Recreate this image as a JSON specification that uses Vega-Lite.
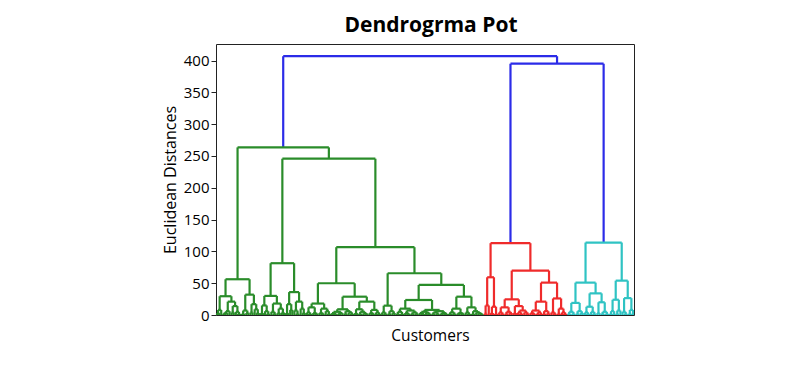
{
  "$schema": "https://vega.github.io/schema/vega-lite/v6.json",
  "width": 418,
  "height": 271,
  "autosize": {"type": "none"},
  "padding": {"left": 216, "top": 44, "right": 166, "bottom": 61},
  "background": "white",
  "config": {
    "view": {"stroke": "#222", "strokeWidth": 1},
    "font": "Open Sans",
    "axisX": {"title": "Customers", "labels": false, "ticks": false, "domain": false, "grid": false, "titleFont": "Open Sans", "titleFontSize": 15.5, "titleFontWeight": "normal", "titleColor": "#000", "titlePadding": 13, "titleX": 214},
    "axisY": {"title": "Euclidean Distances", "values": [0, 50, 100, 150, 200, 250, 300, 350, 400], "grid": false, "domain": false, "tickSize": 5, "tickColor": "#222", "labelFont": "Open Sans", "labelFontSize": 15, "labelColor": "#000", "labelPadding": 2, "titleFont": "Open Sans", "titleFontSize": 16, "titleFontWeight": "normal", "titleColor": "#000", "titlePadding": 5}
  },
  "title": {"text": "Dendrogrma Pot", "font": "Open Sans", "fontSize": 21, "fontWeight": "bold", "color": "#000", "offset": 8, "dx": 6},
  "data": {"values": [
    {"x1":5,"x2":15,"y1":0,"y2":0,"h":3,"c":"g"},
    {"x1":10,"x2":25,"y1":3,"y2":0,"h":8,"c":"g"},
    {"x1":35,"x2":45,"y1":0,"y2":0,"h":2,"c":"g"},
    {"x1":40,"x2":55,"y1":2,"y2":0,"h":3,"c":"g"},
    {"x1":47.5,"x2":65,"y1":3,"y2":0,"h":6,"c":"g"},
    {"x1":75,"x2":85,"y1":0,"y2":0,"h":4,"c":"g"},
    {"x1":105,"x2":115,"y1":0,"y2":0,"h":2,"c":"g"},
    {"x1":95,"x2":110,"y1":0,"y2":2,"h":5,"c":"g"},
    {"x1":80,"x2":102.5,"y1":4,"y2":5,"h":14,"c":"g"},
    {"x1":56.25,"x2":91.25,"y1":6,"y2":14,"h":21,"c":"g"},
    {"x1":17.5,"x2":73.75,"y1":8,"y2":21,"h":29.5,"c":"g"},
    {"x1":125,"x2":135,"y1":0,"y2":0,"h":2,"c":"g"},
    {"x1":145,"x2":155,"y1":0,"y2":0,"h":3,"c":"g"},
    {"x1":130,"x2":150,"y1":2,"y2":3,"h":7,"c":"g"},
    {"x1":165,"x2":175,"y1":0,"y2":0,"h":4,"c":"g"},
    {"x1":195,"x2":205,"y1":0,"y2":0,"h":3,"c":"g"},
    {"x1":185,"x2":200,"y1":0,"y2":3,"h":9,"c":"g"},
    {"x1":170,"x2":192.5,"y1":4,"y2":9,"h":17,"c":"g"},
    {"x1":140,"x2":181.25,"y1":7,"y2":17,"h":32,"c":"g"},
    {"x1":45.63,"x2":160.63,"y1":29.5,"y2":32,"h":56.2,"c":"g"},
    {"x1":215,"x2":225,"y1":0,"y2":0,"h":3,"c":"g"},
    {"x1":245,"x2":255,"y1":0,"y2":0,"h":2,"c":"g"},
    {"x1":235,"x2":250,"y1":0,"y2":2,"h":6,"c":"g"},
    {"x1":220,"x2":242.5,"y1":3,"y2":6,"h":15,"c":"g"},
    {"x1":275,"x2":285,"y1":0,"y2":0,"h":2,"c":"g"},
    {"x1":265,"x2":280,"y1":0,"y2":2,"h":5,"c":"g"},
    {"x1":295,"x2":305,"y1":0,"y2":0,"h":3,"c":"g"},
    {"x1":315,"x2":325,"y1":0,"y2":0,"h":4,"c":"g"},
    {"x1":300,"x2":320,"y1":3,"y2":4,"h":10,"c":"g"},
    {"x1":272.5,"x2":310,"y1":5,"y2":10,"h":18,"c":"g"},
    {"x1":231.25,"x2":291.25,"y1":15,"y2":18,"h":30,"c":"g"},
    {"x1":335,"x2":345,"y1":0,"y2":0,"h":3,"c":"g"},
    {"x1":355,"x2":365,"y1":0,"y2":0,"h":8,"c":"g"},
    {"x1":340,"x2":360,"y1":3,"y2":8,"h":17,"c":"g"},
    {"x1":385,"x2":395,"y1":0,"y2":0,"h":2,"c":"g"},
    {"x1":375,"x2":390,"y1":0,"y2":2,"h":7,"c":"g"},
    {"x1":415,"x2":425,"y1":0,"y2":0,"h":3,"c":"g"},
    {"x1":405,"x2":420,"y1":0,"y2":3,"h":10,"c":"g"},
    {"x1":382.5,"x2":412.5,"y1":7,"y2":10,"h":21,"c":"g"},
    {"x1":350,"x2":397.5,"y1":17,"y2":21,"h":36,"c":"g"},
    {"x1":261.25,"x2":373.75,"y1":30,"y2":36,"h":81.4,"c":"g"},
    {"x1":445,"x2":455,"y1":0,"y2":0,"h":2,"c":"g"},
    {"x1":435,"x2":450,"y1":0,"y2":2,"h":4,"c":"g"},
    {"x1":475,"x2":485,"y1":0,"y2":0,"h":2,"c":"g"},
    {"x1":465,"x2":480,"y1":0,"y2":2,"h":3,"c":"g"},
    {"x1":442.5,"x2":472.5,"y1":4,"y2":3,"h":12,"c":"g"},
    {"x1":505,"x2":515,"y1":0,"y2":0,"h":2,"c":"g"},
    {"x1":495,"x2":510,"y1":0,"y2":2,"h":3,"c":"g"},
    {"x1":535,"x2":545,"y1":0,"y2":0,"h":2,"c":"g"},
    {"x1":525,"x2":540,"y1":0,"y2":2,"h":6,"c":"g"},
    {"x1":502.5,"x2":532.5,"y1":3,"y2":6,"h":10,"c":"g"},
    {"x1":457.5,"x2":517.5,"y1":12,"y2":10,"h":18,"c":"g"},
    {"x1":565,"x2":575,"y1":0,"y2":0,"h":2,"c":"g"},
    {"x1":555,"x2":570,"y1":0,"y2":2,"h":3,"c":"g"},
    {"x1":585,"x2":595,"y1":0,"y2":0,"h":2,"c":"g"},
    {"x1":590,"x2":605,"y1":2,"y2":0,"h":3,"c":"g"},
    {"x1":562.5,"x2":597.5,"y1":3,"y2":3,"h":5,"c":"g"},
    {"x1":615,"x2":625,"y1":0,"y2":0,"h":2,"c":"g"},
    {"x1":645,"x2":655,"y1":0,"y2":0,"h":2,"c":"g"},
    {"x1":635,"x2":650,"y1":0,"y2":2,"h":4,"c":"g"},
    {"x1":620,"x2":642.5,"y1":2,"y2":4,"h":6,"c":"g"},
    {"x1":580,"x2":631.25,"y1":5,"y2":6,"h":9,"c":"g"},
    {"x1":665,"x2":675,"y1":0,"y2":0,"h":3,"c":"g"},
    {"x1":685,"x2":695,"y1":0,"y2":0,"h":2,"c":"g"},
    {"x1":715,"x2":725,"y1":0,"y2":0,"h":1.5,"c":"g"},
    {"x1":705,"x2":720,"y1":0,"y2":1.5,"h":2.5,"c":"g"},
    {"x1":690,"x2":712.5,"y1":2,"y2":2.5,"h":5,"c":"g"},
    {"x1":670,"x2":701.25,"y1":3,"y2":5,"h":9,"c":"g"},
    {"x1":745,"x2":755,"y1":0,"y2":0,"h":2,"c":"g"},
    {"x1":735,"x2":750,"y1":0,"y2":2,"h":3,"c":"g"},
    {"x1":775,"x2":785,"y1":0,"y2":0,"h":2,"c":"g"},
    {"x1":765,"x2":780,"y1":0,"y2":2,"h":4,"c":"g"},
    {"x1":742.5,"x2":772.5,"y1":3,"y2":4,"h":8,"c":"g"},
    {"x1":685.63,"x2":757.5,"y1":9,"y2":8,"h":21,"c":"g"},
    {"x1":605.63,"x2":721.56,"y1":9,"y2":21,"h":28.8,"c":"g"},
    {"x1":487.5,"x2":663.59,"y1":18,"y2":28.8,"h":49.9,"c":"g"},
    {"x1":805,"x2":815,"y1":0,"y2":0,"h":2,"c":"g"},
    {"x1":795,"x2":810,"y1":0,"y2":2,"h":4,"c":"g"},
    {"x1":825,"x2":835,"y1":0,"y2":0,"h":2,"c":"g"},
    {"x1":845,"x2":855,"y1":0,"y2":0,"h":3,"c":"g"},
    {"x1":830,"x2":850,"y1":2,"y2":3,"h":6,"c":"g"},
    {"x1":802.5,"x2":840,"y1":4,"y2":6,"h":14.7,"c":"g"},
    {"x1":865,"x2":875,"y1":0,"y2":0,"h":2,"c":"g"},
    {"x1":885,"x2":895,"y1":0,"y2":0,"h":2,"c":"g"},
    {"x1":870,"x2":890,"y1":2,"y2":2,"h":5,"c":"g"},
    {"x1":915,"x2":925,"y1":0,"y2":0,"h":2,"c":"g"},
    {"x1":905,"x2":920,"y1":0,"y2":2,"h":3,"c":"g"},
    {"x1":935,"x2":945,"y1":0,"y2":0,"h":2,"c":"g"},
    {"x1":955,"x2":965,"y1":0,"y2":0,"h":2,"c":"g"},
    {"x1":940,"x2":960,"y1":2,"y2":2,"h":4,"c":"g"},
    {"x1":912.5,"x2":950,"y1":3,"y2":4,"h":7,"c":"g"},
    {"x1":880,"x2":931.25,"y1":5,"y2":7,"h":10,"c":"g"},
    {"x1":985,"x2":995,"y1":0,"y2":0,"h":2,"c":"g"},
    {"x1":975,"x2":990,"y1":0,"y2":2,"h":3,"c":"g"},
    {"x1":1015,"x2":1025,"y1":0,"y2":0,"h":2,"c":"g"},
    {"x1":1005,"x2":1020,"y1":0,"y2":2,"h":3.5,"c":"g"},
    {"x1":982.5,"x2":1012.5,"y1":3,"y2":3.5,"h":5,"c":"g"},
    {"x1":1035,"x2":1045,"y1":0,"y2":0,"h":2,"c":"g"},
    {"x1":1055,"x2":1065,"y1":0,"y2":0,"h":2,"c":"g"},
    {"x1":1040,"x2":1060,"y1":2,"y2":2,"h":4,"c":"g"},
    {"x1":1075,"x2":1085,"y1":0,"y2":0,"h":2,"c":"g"},
    {"x1":1095,"x2":1105,"y1":0,"y2":0,"h":2,"c":"g"},
    {"x1":1080,"x2":1100,"y1":2,"y2":2,"h":3,"c":"g"},
    {"x1":1050,"x2":1090,"y1":4,"y2":3,"h":6,"c":"g"},
    {"x1":997.5,"x2":1070,"y1":5,"y2":6,"h":8,"c":"g"},
    {"x1":905.63,"x2":1033.75,"y1":10,"y2":8,"h":23.6,"c":"g"},
    {"x1":1115,"x2":1125,"y1":0,"y2":0,"h":2,"c":"g"},
    {"x1":1135,"x2":1145,"y1":0,"y2":0,"h":2,"c":"g"},
    {"x1":1120,"x2":1140,"y1":2,"y2":2,"h":4,"c":"g"},
    {"x1":1155,"x2":1165,"y1":0,"y2":0,"h":2,"c":"g"},
    {"x1":1175,"x2":1185,"y1":0,"y2":0,"h":2,"c":"g"},
    {"x1":1160,"x2":1180,"y1":2,"y2":2,"h":3,"c":"g"},
    {"x1":1130,"x2":1170,"y1":4,"y2":3,"h":10,"c":"g"},
    {"x1":1205,"x2":1215,"y1":0,"y2":0,"h":2,"c":"g"},
    {"x1":1195,"x2":1210,"y1":0,"y2":2,"h":4,"c":"g"},
    {"x1":1225,"x2":1235,"y1":0,"y2":0,"h":2,"c":"g"},
    {"x1":1265,"x2":1275,"y1":0,"y2":0,"h":1.5,"c":"g"},
    {"x1":1255,"x2":1270,"y1":0,"y2":1.5,"h":2.5,"c":"g"},
    {"x1":1245,"x2":1262.5,"y1":0,"y2":2.5,"h":4,"c":"g"},
    {"x1":1230,"x2":1253.75,"y1":2,"y2":4,"h":6,"c":"g"},
    {"x1":1202.5,"x2":1241.88,"y1":4,"y2":6,"h":12,"c":"g"},
    {"x1":1150,"x2":1222.19,"y1":10,"y2":12,"h":28.8,"c":"g"},
    {"x1":969.69,"x2":1186.1,"y1":23.6,"y2":28.8,"h":47.2,"c":"g"},
    {"x1":821.25,"x2":1077.9,"y1":14.7,"y2":47.2,"h":65.6,"c":"g"},
    {"x1":575.55,"x2":949.58,"y1":49.9,"y2":65.6,"h":106.6,"c":"g"},
    {"x1":317.5,"x2":762.56,"y1":81.4,"y2":106.6,"h":245.7,"c":"g"},
    {"x1":103.13,"x2":540.03,"y1":56.2,"y2":245.7,"h":263.5,"c":"g"},
    {"x1":1285,"x2":1295,"y1":0,"y2":0,"h":2,"c":"r"},
    {"x1":1290,"x2":1305,"y1":2,"y2":0,"h":15,"c":"r"},
    {"x1":1315,"x2":1325,"y1":0,"y2":0,"h":3,"c":"r"},
    {"x1":1335,"x2":1345,"y1":0,"y2":0,"h":2,"c":"r"},
    {"x1":1320,"x2":1340,"y1":3,"y2":2,"h":13,"c":"r"},
    {"x1":1297.5,"x2":1330,"y1":15,"y2":13,"h":59.3,"c":"r"},
    {"x1":1365,"x2":1375,"y1":0,"y2":0,"h":2,"c":"r"},
    {"x1":1355,"x2":1370,"y1":0,"y2":2,"h":4,"c":"r"},
    {"x1":1385,"x2":1395,"y1":0,"y2":0,"h":2,"c":"r"},
    {"x1":1405,"x2":1415,"y1":0,"y2":0,"h":3,"c":"r"},
    {"x1":1390,"x2":1410,"y1":2,"y2":3,"h":5,"c":"r"},
    {"x1":1362.5,"x2":1400,"y1":4,"y2":5,"h":12,"c":"r"},
    {"x1":1425,"x2":1435,"y1":0,"y2":0,"h":3,"c":"r"},
    {"x1":1455,"x2":1465,"y1":0,"y2":0,"h":2,"c":"r"},
    {"x1":1445,"x2":1460,"y1":0,"y2":2,"h":4,"c":"r"},
    {"x1":1485,"x2":1495,"y1":0,"y2":0,"h":2,"c":"r"},
    {"x1":1475,"x2":1490,"y1":0,"y2":2,"h":4,"c":"r"},
    {"x1":1452.5,"x2":1482.5,"y1":4,"y2":4,"h":7,"c":"r"},
    {"x1":1430,"x2":1467.5,"y1":3,"y2":7,"h":14,"c":"r"},
    {"x1":1381.25,"x2":1448.75,"y1":12,"y2":14,"h":24.6,"c":"r"},
    {"x1":1515,"x2":1525,"y1":0,"y2":0,"h":2,"c":"r"},
    {"x1":1505,"x2":1520,"y1":0,"y2":2,"h":3,"c":"r"},
    {"x1":1535,"x2":1545,"y1":0,"y2":0,"h":2,"c":"r"},
    {"x1":1540,"x2":1555,"y1":2,"y2":0,"h":4,"c":"r"},
    {"x1":1512.5,"x2":1547.5,"y1":3,"y2":4,"h":7,"c":"r"},
    {"x1":1565,"x2":1575,"y1":0,"y2":0,"h":2,"c":"r"},
    {"x1":1585,"x2":1595,"y1":0,"y2":0,"h":2.5,"c":"r"},
    {"x1":1570,"x2":1590,"y1":2,"y2":2.5,"h":6,"c":"r"},
    {"x1":1530,"x2":1580,"y1":7,"y2":6,"h":21,"c":"r"},
    {"x1":1615,"x2":1625,"y1":0,"y2":0,"h":2,"c":"r"},
    {"x1":1605,"x2":1620,"y1":0,"y2":2,"h":4,"c":"r"},
    {"x1":1635,"x2":1645,"y1":0,"y2":0,"h":2,"c":"r"},
    {"x1":1665,"x2":1675,"y1":0,"y2":0,"h":2,"c":"r"},
    {"x1":1655,"x2":1670,"y1":0,"y2":2,"h":4,"c":"r"},
    {"x1":1640,"x2":1662.5,"y1":2,"y2":4,"h":10,"c":"r"},
    {"x1":1612.5,"x2":1651.25,"y1":4,"y2":10,"h":26,"c":"r"},
    {"x1":1555,"x2":1631.88,"y1":21,"y2":26,"h":50.9,"c":"r"},
    {"x1":1415,"x2":1593.44,"y1":24.6,"y2":50.9,"h":69.8,"c":"r"},
    {"x1":1313.75,"x2":1504.22,"y1":59.3,"y2":69.8,"h":112.9,"c":"r"},
    {"x1":1685,"x2":1695,"y1":0,"y2":0,"h":2,"c":"c"},
    {"x1":1705,"x2":1715,"y1":0,"y2":0,"h":2,"c":"c"},
    {"x1":1690,"x2":1710,"y1":2,"y2":2,"h":5,"c":"c"},
    {"x1":1725,"x2":1735,"y1":0,"y2":0,"h":2,"c":"c"},
    {"x1":1745,"x2":1755,"y1":0,"y2":0,"h":3,"c":"c"},
    {"x1":1730,"x2":1750,"y1":2,"y2":3,"h":6,"c":"c"},
    {"x1":1700,"x2":1740,"y1":5,"y2":6,"h":19,"c":"c"},
    {"x1":1775,"x2":1785,"y1":0,"y2":0,"h":2,"c":"c"},
    {"x1":1765,"x2":1780,"y1":0,"y2":2,"h":4,"c":"c"},
    {"x1":1805,"x2":1815,"y1":0,"y2":0,"h":2,"c":"c"},
    {"x1":1795,"x2":1810,"y1":0,"y2":2,"h":5,"c":"c"},
    {"x1":1772.5,"x2":1802.5,"y1":4,"y2":5,"h":13,"c":"c"},
    {"x1":1825,"x2":1835,"y1":0,"y2":0,"h":3,"c":"c"},
    {"x1":1845,"x2":1855,"y1":0,"y2":0,"h":2,"c":"c"},
    {"x1":1865,"x2":1875,"y1":0,"y2":0,"h":2,"c":"c"},
    {"x1":1850,"x2":1870,"y1":2,"y2":2,"h":5,"c":"c"},
    {"x1":1830,"x2":1860,"y1":3,"y2":5,"h":20,"c":"c"},
    {"x1":1787.5,"x2":1845,"y1":13,"y2":20,"h":34,"c":"c"},
    {"x1":1720,"x2":1816.25,"y1":19,"y2":34,"h":50.9,"c":"c"},
    {"x1":1885,"x2":1895,"y1":0,"y2":0,"h":2,"c":"c"},
    {"x1":1890,"x2":1905,"y1":2,"y2":0,"h":6,"c":"c"},
    {"x1":1915,"x2":1925,"y1":0,"y2":0,"h":2,"c":"c"},
    {"x1":1920,"x2":1935,"y1":2,"y2":0,"h":7,"c":"c"},
    {"x1":1897.5,"x2":1927.5,"y1":6,"y2":7,"h":24,"c":"c"},
    {"x1":1955,"x2":1965,"y1":0,"y2":0,"h":2,"c":"c"},
    {"x1":1945,"x2":1960,"y1":0,"y2":2,"h":5,"c":"c"},
    {"x1":1975,"x2":1985,"y1":0,"y2":0,"h":2,"c":"c"},
    {"x1":1980,"x2":1995,"y1":2,"y2":0,"h":8,"c":"c"},
    {"x1":1952.5,"x2":1987.5,"y1":5,"y2":8,"h":26.5,"c":"c"},
    {"x1":1912.5,"x2":1970,"y1":24,"y2":26.5,"h":54,"c":"c"},
    {"x1":1768.13,"x2":1941.25,"y1":50.9,"y2":54,"h":113.9,"c":"c"},
    {"x1":1408.98,"x2":1854.69,"y1":112.9,"y2":113.9,"h":395,"c":"b"},
    {"x1":321.58,"x2":1631.8,"y1":263.5,"y2":395,"h":406.8,"c":"b"}
  ]},
  "layer": [
    {
      "mark": {"type": "rule", "strokeWidth": 2.2},
      "encoding": {
        "x": {"field": "x1", "type": "quantitative", "scale": {"domain": [0, 2000], "nice": false, "zero": false}, "title": "Customers"},
        "y": {"field": "y1", "type": "quantitative", "scale": {"domain": [0, 426], "nice": false}, "title": "Euclidean Distances"},
        "y2": {"field": "h"},
        "color": {"field": "c", "type": "nominal", "scale": {"domain": ["g", "r", "c", "b"], "range": ["#2a8c2a", "#ef2b2b", "#2fc3c3", "#2b2be8"]}, "legend": null}
      }
    },
    {
      "mark": {"type": "rule", "strokeWidth": 2.2},
      "encoding": {
        "x": {"field": "x2", "type": "quantitative", "title": "Customers"},
        "y": {"field": "y2", "type": "quantitative", "title": "Euclidean Distances"},
        "y2": {"field": "h"},
        "color": {"field": "c", "type": "nominal", "legend": null}
      }
    },
    {
      "mark": {"type": "rule", "strokeWidth": 2.2},
      "encoding": {
        "x": {"field": "x1", "type": "quantitative", "title": "Customers"},
        "x2": {"field": "x2"},
        "y": {"field": "h", "type": "quantitative", "title": "Euclidean Distances"},
        "color": {"field": "c", "type": "nominal", "legend": null}
      }
    }
  ]
}
